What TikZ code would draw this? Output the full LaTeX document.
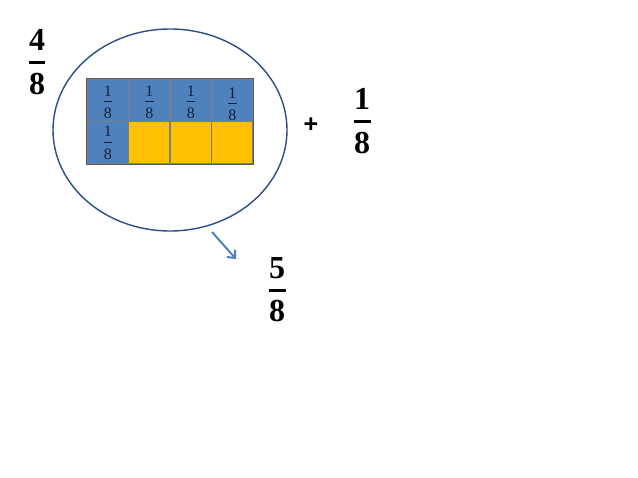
\documentclass[tikz,border=0pt]{standalone}
\usepackage{fontspec}
\usepackage{tikz}
\usetikzlibrary{shapes.geometric,arrows.meta}
\setmainfont{Liberation Serif}
\newfontfamily\plusfont{Liberation Sans}
\definecolor{cellblue}{HTML}{4F81BD}
\definecolor{cellyellow}{HTML}{FFC000}
\definecolor{ringblue}{HTML}{2C4E86}
\definecolor{textnavy}{HTML}{14213A}
% stacked fractions: numerator, bar, denominator
\newcommand{\bigstack}[2]{#1\\\raisebox{8pt}{\rule{17pt}{2.6pt}}\\#2}
\newcommand{\cellstack}[2]{#1\\\raisebox{4.6pt}{\rule{8.5pt}{0.9pt}}\\#2}
\tikzset{
  bigfrac/.style={font=\fontsize{32}{21}\selectfont\bfseries, align=center, inner sep=0pt},
  cellfrac/.style={font=\fontsize{16}{10.5}\selectfont, text=textnavy, align=center, inner sep=0pt},
  cell/.style={draw=gray!80!cellblue, line width=1.2pt, minimum width=41.5pt, minimum height=42.5pt, inner sep=0pt}
}
\begin{document}
\begin{tikzpicture}[x=1pt,y=-1pt]
            \useasboundingbox[fill=white] (0,0) rectangle (638,478);
            % the whole
            \node[draw=ringblue, line width=1.4pt, ellipse, minimum width=234pt, minimum height=202pt] (whole) at (170,130) {};
            % cells of eighths
            \foreach \c in {1,2,3,4}
                \node[cell, fill=cellblue] (top\c) at ({87+41.5*(\c-0.5)},100.25) {};
            \node[cell, fill=cellblue] (bot1) at (107.75,142.75) {};
            \foreach \c in {2,3,4}
                \node[cell, fill=cellyellow] (bot\c) at ({87+41.5*(\c-0.5)},142.75) {};
            \draw[gray!70!black, line width=1pt] (top1.north west) rectangle (bot4.south east);
            \foreach \c in {1,2,3}
                \node[cellfrac] (f\c) at ([yshift=-2pt]top\c) {\cellstack{1}{8}};
            \node[cellfrac] (f4) at ([yshift=-4pt]top4) {\cellstack{1}{8}};
            \node[cellfrac] (f5) at (bot1) {\cellstack{1}{8}};
            % numbers
            \node[bigfrac] (four) at (37,62) {\bigstack{4}{8}};
            \node[font=\fontsize{25}{25}\selectfont\plusfont\bfseries, inner sep=0pt] (plus) at (311,125) {+};
            \node[bigfrac] (one) at (362,121) {\bigstack{1}{8}};
            \node[bigfrac] (five) at (277,290) {\bigstack{5}{8}};
            \coordinate (tail) at (212,232);
            \coordinate (tip) at (236,259);
            \draw[cellblue, line width=2pt, -{Straight Barb[length=6pt,width=11pt]}] (tail) -- (tip);
        \end{tikzpicture}
\end{document}
